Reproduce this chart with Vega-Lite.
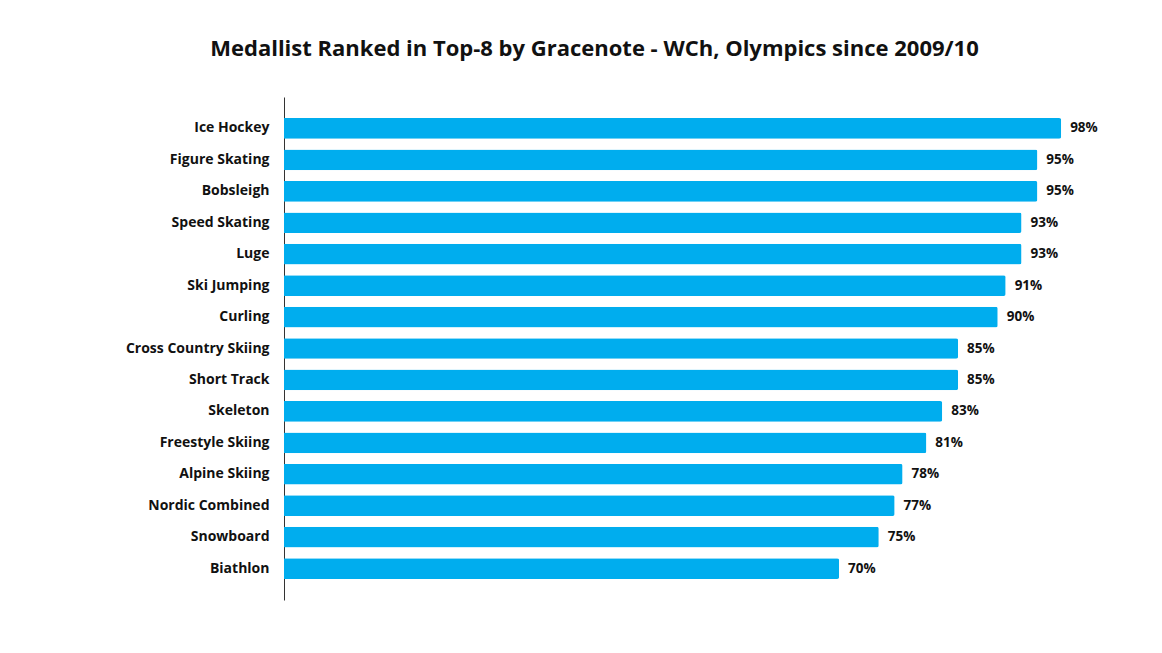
{
  "$schema": "https://vega.github.io/schema/vega-lite/v6.json",
  "autosize": "none",
  "width": 793,
  "height": 503,
  "padding": {"left": 284, "top": 97, "right": 85, "bottom": 53},
  "background": "#ffffff",
  "view": {"stroke": null},
  "title": {
    "text": "Medallist Ranked in Top-8 by Gracenote - WCh, Olympics since 2009/10",
    "anchor": "middle",
    "dx": -86,
    "offset": 36,
    "font": "Open Sans",
    "fontSize": 22,
    "fontWeight": "bold",
    "color": "#111111"
  },
  "data": {
    "values": [
      {"sport": "Ice Hockey", "share": 0.98},
      {"sport": "Figure Skating", "share": 0.95},
      {"sport": "Bobsleigh", "share": 0.95},
      {"sport": "Speed Skating", "share": 0.93},
      {"sport": "Luge", "share": 0.93},
      {"sport": "Ski Jumping", "share": 0.91},
      {"sport": "Curling", "share": 0.90},
      {"sport": "Cross Country Skiing", "share": 0.85},
      {"sport": "Short Track", "share": 0.85},
      {"sport": "Skeleton", "share": 0.83},
      {"sport": "Freestyle Skiing", "share": 0.81},
      {"sport": "Alpine Skiing", "share": 0.78},
      {"sport": "Nordic Combined", "share": 0.77},
      {"sport": "Snowboard", "share": 0.75},
      {"sport": "Biathlon", "share": 0.70}
    ]
  },
  "encoding": {
    "y": {
      "field": "sport",
      "type": "nominal",
      "sort": null,
      "scale": {"paddingInner": 0.34, "paddingOuter": 0.67},
      "axis": {
        "title": null,
        "ticks": false,
        "labelPadding": 15,
        "labelFont": "Open Sans",
        "labelFontSize": 14,
        "labelFontWeight": "bold",
        "labelColor": "#111111",
        "domainColor": "#333333",
        "domainWidth": 1
      }
    },
    "x": {
      "field": "share",
      "type": "quantitative",
      "scale": {"domain": [0, 1]},
      "axis": null
    }
  },
  "layer": [
    {
      "mark": {"type": "bar", "color": "#00ADEE", "cornerRadiusEnd": 2}
    },
    {
      "mark": {
        "type": "text",
        "align": "left",
        "dx": 9,
        "dy": 0,
        "font": "Open Sans",
        "fontSize": 13.5,
        "fontWeight": "bold",
        "color": "#111111"
      },
      "encoding": {
        "text": {"field": "share", "type": "quantitative", "format": ".0%"}
      }
    }
  ]
}
